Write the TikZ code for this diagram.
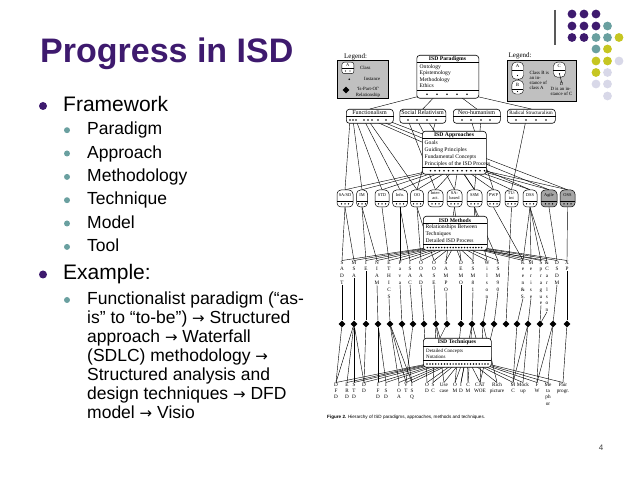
\documentclass[tikz,border=0pt]{standalone}
\usepackage{fontspec}
\setmainfont{Liberation Sans}
\newfontfamily\figserif{Liberation Serif}
\newfontfamily\arrowfont{DejaVu Sans}
\newcommand\thenarrow{{\arrowfont\fontsize{15}{15}\selectfont →}}
\usetikzlibrary{shapes.geometric}
\pgfdeclarelayer{bg}
\pgfsetlayers{bg,main}

\definecolor{slidepurple}{RGB}{62,26,110}
\definecolor{slideteal}{RGB}{106,160,160}
\definecolor{slideyellow}{RGB}{198,198,34}
\definecolor{slidelilac}{RGB}{216,216,232}
\definecolor{legendgray}{RGB}{192,192,192}
\definecolor{apgray}{RGB}{165,165,165}

\begin{document}
\begin{tikzpicture}[x=1pt,y=-1pt,
  slidetitle/.style={anchor=base west,inner sep=0,text=slidepurple,font=\fontsize{34}{34}\selectfont\bfseries},
  lvlone/.style={anchor=base west,inner sep=0,font=\fontsize{21}{21}\selectfont},
  lvltwo/.style={anchor=base west,inner sep=0,font=\fontsize{17.5}{19}\selectfont},
  figtxt/.style={inner sep=0,font=\figserif\fontsize{5.6}{6.5}\selectfont},
  figbold/.style={inner sep=0,font=\figserif\bfseries\fontsize{5.7}{6.5}\selectfont},
  legtxt/.style={inner sep=0,font=\figserif\fontsize{4.8}{5.2}\selectfont},
  classbox/.style={draw,fill=white,rounded corners=3pt,line width=0.6pt,inner sep=0},
  apbox/.style={draw,rounded corners=4pt,line width=0.5pt,minimum height=17pt,inner sep=0},
  conn/.style={line width=0.42pt},
  instdot/.style={circle,fill=black,inner sep=0,minimum size=1.8pt},
  partof/.style={diamond,fill=black,inner sep=0,minimum size=7pt},
  vlet/.style={inner sep=0,anchor=north,align=center,font=\figserif\fontsize{5.2}{6.8}\selectfont},
  tlet/.style={inner sep=0,anchor=north,align=center,font=\figserif\fontsize{5.2}{6.4}\selectfont}
]
\useasboundingbox (0,0) rectangle (638,478);

% Titel
\node[slidetitle] (ttl) at (40,63) {Progress in ISD};

% Aufzaehlung Framework
\fill[slidepurple] (43,106) circle[radius=4pt];
\node[lvlone] (frame) at (63,112) {Framework};
\foreach \y/\txt in {135/Paradigm,158.3/Approach,181.7/Methodology,205/Technique,228.3/Model,251.7/Tool}{
  \fill[slideteal] (67,\y-4.8) circle[radius=3pt];
  \node[lvltwo] at (87,\y) {\txt};
}

% Aufzaehlung Example
\fill[slidepurple] (43,274.5) circle[radius=4pt];
\node[lvlone] (exmp) at (63,280) {Example:};
\fill[slideteal] (67,300) circle[radius=3pt];
\node[lvltwo] (ex1) at (87,305) {Functionalist paradigm (“as-};
\node[lvltwo] (ex2) at (87,323.9) {is” to “to-be”) \thenarrow\ Structured};
\node[lvltwo] (ex3) at (87,342.8) {approach \thenarrow\ Waterfall};
\node[lvltwo] (ex4) at (87,361.7) {(SDLC) methodology \thenarrow};
\node[lvltwo] (ex5) at (87,380.5) {Structured analysis and};
\node[lvltwo] (ex6) at (87,399.4) {design techniques \thenarrow\ DFD};
\node[lvltwo] (ex7) at (87,418.3) {model \thenarrow\ Visio};

% Seitenzahl
\node[anchor=base,inner sep=0,font=\fontsize{8}{8}\selectfont,text=black!75] (pnum) at (601,451) {4};

% Dekorpunkte oben rechts
\draw[line width=1.2pt,black!65] (555,10) -- (555,45);
\foreach \x/\y/\c in {572/14/slidepurple,584/14/slidepurple,596/14/slidepurple,
  572/26/slidepurple,584/26/slidepurple,596/26/slidepurple,607.5/26/slideteal,
  572/37.5/slidepurple,584/37.5/slidepurple,596/37.5/slideteal,607.5/37.5/slideteal,619/37.5/slideyellow,
  596/49/slideteal,607.5/49/slideyellow,
  596/61/slideyellow,607.5/61/slideyellow,619/61/slidelilac,
  596/72.5/slideyellow,607.5/72.5/slidelilac,
  596/84/slidelilac,607.5/84/slidelilac,
  607.5/96/slidelilac}
  \fill[\c] (\x,\y) circle[radius=4.4pt];

% ---------------- Abbildung ----------------
% Legende links
\node[inner sep=0,anchor=base west,font=\figserif\fontsize{7}{7}\selectfont] (legl) at (344,58.5) {Legend:};
\draw[fill=legendgray,line width=0.5pt] (337.3,60.5) rectangle (388.3,98.3);
\node[classbox,rounded corners=2.5pt,line width=0.4pt,minimum width=12pt,minimum height=11.5pt,anchor=north west] (lcls) at (341.7,62) {};
\draw[line width=0.4pt] (341.7,68) -- (353.7,68);
\node[legtxt,font=\figserif\fontsize{4.5}{5}\selectfont] at (347.7,65.2) {A};
\fill (345.5,71) circle[radius=0.7pt] (350,71) circle[radius=0.7pt];
\node[legtxt,anchor=west] (lclass) at (360,67.7) {Class};
\node[instdot] (linst) at (349.3,79.3) {};
\node[legtxt,anchor=west] (linsttxt) at (364,79.3) {Instance};
\node[partof] (lpart) at (346,90) {};
\node[legtxt,align=center,font=\figserif\fontsize{4.8}{5.7}\selectfont] (lparttxt) at (368,92.2) {‘Is-Part-Of’\\Relationship};

% Legende rechts
\node[inner sep=0,anchor=base west,font=\figserif\fontsize{7}{7}\selectfont] (legr) at (508.5,58) {Legend:};
\draw[fill=legendgray,line width=0.5pt] (507.3,59.8) rectangle (576.7,101.7);
\node[classbox,rounded corners=4pt,line width=0.4pt,minimum width=11.6pt,minimum height=17pt,anchor=north west] (lca) at (511.7,62) {};
\draw[line width=0.4pt] (511.7,70.7) -- (523.3,70.7);
\node[legtxt] at (517.5,66.2) {A};
\node[classbox,rounded corners=4pt,line width=0.4pt,minimum width=11.6pt,minimum height=13.5pt,anchor=north west] (lcb) at (511.7,80.3) {};
\draw[line width=0.4pt] (511.7,89) -- (523.3,89);
\node[legtxt] at (517.5,85) {B};
\draw[line width=0.4pt] (lca.south) -- (lcb.north);
\fill (517.5,75.5) circle[radius=0.7pt] (517.5,91.5) circle[radius=0.7pt];
\node[classbox,rounded corners=4pt,line width=0.4pt,minimum width=11.7pt,minimum height=15pt,anchor=north west] (lcc) at (553.3,62) {};
\draw[line width=0.4pt] (553.3,70.7) -- (565,70.7);
\node[legtxt] at (559.2,66.2) {C};
\fill (559.5,73.8) circle[radius=0.7pt];
\node[legtxt] (lcd) at (561.7,84.3) {D};
\draw[line width=0.4pt] (559.5,73.8) -- (lcd.north);
\node[legtxt,anchor=north west,align=left] (lcbtxt) at (529.5,70.8) {Class B is\\an in-\\stance of\\class A};
\node[legtxt,anchor=north west,align=left] (lcdtxt) at (550.5,87) {D is an in-\\stance of C};

% ISD Paradigms
\node[classbox,minimum width=62pt,minimum height=43pt,anchor=north west] (para) at (416.5,55) {};
\node[figbold] (paratit) at (447.5,59.3) {ISD Paradigms};
\draw[line width=0.5pt] (416.5,62.5) -- (478.5,62.5);
\node[figtxt,anchor=base west] at (419.5,68.3) {Ontology};
\node[figtxt,anchor=base west] at (419.5,74.9) {Epistemology};
\node[figtxt,anchor=base west] at (419.5,81.5) {Methodology};
\node[figtxt,anchor=base west] at (419.5,88) {Ethics};
\draw[line width=0.5pt] (416.5,90.5) -- (478.5,90.5);
\foreach \i/\x in {1/427,2/437,3/447,4/457,5/467} \node[instdot] (pd\i) at (\x,94.2) {};

% Paradigmen-Instanzen
\node[classbox,minimum width=47pt,minimum height=14pt,anchor=north west] (pF) at (346,109) {};
\node[classbox,minimum width=46pt,minimum height=14pt,anchor=north west] (pS) at (399.5,109) {};
\node[classbox,minimum width=47pt,minimum height=14pt,anchor=north west] (pN) at (453,109) {};
\node[classbox,minimum width=48pt,minimum height=14pt,anchor=north west] (pR) at (507,109) {};
\node[figtxt,font=\figserif\fontsize{6}{6}\selectfont] at (369.5,112.8) {Functionalism};
\node[figtxt,font=\figserif\fontsize{6}{6}\selectfont] at (422.5,112.8) {Social Relativism};
\node[figtxt,font=\figserif\fontsize{6}{6}\selectfont] at (476.5,112.8) {Neo-humanism};
\node[figtxt,font=\figserif\fontsize{5}{5}\selectfont] at (531,112.8) {Radical Structuralism};
\foreach \b in {pF,pS,pN,pR} \draw[line width=0.5pt] (\b.west|-0,116.3) -- (\b.east|-0,116.3);
\foreach \i/\x in {1/350,2/353,3/356,4/364,5/368,6/372,7/378,8/386} \node[instdot] (fd\i) at (\x,120) {};
\foreach \i/\x in {1/408,2/417,3/427,4/436} \node[instdot] (sd\i) at (\x,120) {};
\foreach \i/\x in {1/462,2/471,3/481,4/490} \node[instdot] (nd\i) at (\x,120) {};
\foreach \i/\x in {1/516,2/526,3/536,4/546} \node[instdot] (rd\i) at (\x,120) {};

% ISD Approaches
\node[classbox,minimum width=64pt,minimum height=43pt,anchor=north west] (isdA) at (422,131) {};
\node[figbold] at (454,135) {ISD Approaches};
\draw[line width=0.5pt] (422,138.5) -- (486,138.5);
\node[figtxt,anchor=base west] at (424.5,144.4) {Goals};
\node[figtxt,anchor=base west] at (424.5,151.4) {Guiding Principles};
\node[figtxt,anchor=base west] at (424.5,158.4) {Fundamental Concepts};
\node[figtxt,anchor=base west] at (424.5,165.4) {Principles of the ISD Process};
\draw[line width=0.5pt] (422,167.6) -- (486,167.6);
\foreach \i in {1,...,13} \node[instdot] (ad\i) at (426+4.5*\i,170.8) {};

% Ansatz-Instanzen
\foreach \i/\x/\w/\lab/\fc in {1/345/16/{SA/SD}/white,2/362/11/{IM}/white,3/382/14/{STD}/white,
  4/400/15/{Info.}/white,5/417/13/{OO}/white,6/435.5/15/{Inter-\\act.}/white,
  7/454.5/15/{SA-\\based}/white,8/474.5/15/{SSM}/white,9/493.5/13/{PWP}/white,
  10/511.5/13/{TU-\\int}/white,11/530/14/{DSS}/white,12/549/16/{Agile}/apgray,13/567.5/15/{OSS}/apgray}{
  \node[apbox,fill=\fc,minimum width=\w pt] (a\i) at (\x,198.5) {};
  \node[figtxt,align=center,font=\figserif\fontsize{4.4}{4.6}\selectfont] (al\i) at (\x,195.3) {\lab};
  \draw[line width=0.35pt] ({\x-\w/2},200.8) -- ({\x+\w/2},200.8);
  \foreach \k in {-3.5,0,3.5} \fill (\x+\k,203.8) circle[radius=0.75pt];
}

% ISD Methods
\node[classbox,minimum width=64pt,minimum height=34pt,anchor=north west] (isdM) at (423,216) {};
\node[figbold] at (455,220.7) {ISD Methods};
\draw[line width=0.5pt] (423,223.5) -- (487,223.5);
\node[figtxt,anchor=base west] at (425.5,229) {Relationships Between};
\node[figtxt,anchor=base west] at (425.5,235.7) {Techniques};
\node[figtxt,anchor=base west] at (425.5,242.4) {Detailed ISD Process};
\draw[line width=0.5pt] (423,244.5) -- (487,244.5);
\foreach \i in {1,...,20} \node[instdot,minimum size=1.7pt] (md\i) at (424.6+2.85*\i,247.6) {};

% Methoden
\foreach \i/\x/\lab in {1/342/{S\\A\\D\\T},2/354/{M\\S\\A},3/366/{I\\E},4/377/{N\\I\\A\\M},
  5/389/{E\\T\\H\\I\\C\\S},6/400/{P\\a\\v\\a},7/410/{I\\S\\A\\C},8/421/{O\\O\\A\\D},
  9/434/{O\\O\\S\\E},10/446/{S\\A\\M\\P\\O},11/461/{D\\E\\M\\O},12/473/{S\\S\\M\\8\\1},
  13/487/{W\\i\\l\\s\\o\\n},14/498/{S\\S\\M\\9\\0},16/523/{K\\e\\e\\n\\\&\\S.},
  17/531/{M\\e\\r\\i\\s\\e},18/541/{S\\p\\r\\a\\g\\u\\e},19/557/{D\\S\\D\\M},20/567/{X\\P}}
  \node[vlet] (m\i) at (\x,260.5) {\lab};
\node[vlet] (m18b) at (547,260.5) {\&\\C\\a\\r\\l\\s\\o\\n};

% Teil-von-Rauten
\foreach \i/\x in {1/342,2/354,3/366,4/378,5/390,6/402,7/413,8/424,9/436,10/447,
  11/461,12/472,13/483,14/494,15/506,16/517,17/528,18/540,19/553,20/567}
  \node[partof] (dm\i) at (\x,324) {};

% ISD Techniques
\node[classbox,minimum width=68pt,minimum height=29pt,anchor=north west] (isdT) at (423,338) {};
\node[figbold] at (457,342.5) {ISD Techniques};
\draw[line width=0.5pt] (423,346) -- (491,346);
\node[figtxt,anchor=base west,font=\figserif\fontsize{5}{5}\selectfont] at (426,352.2) {Detailed Concepts};
\node[figtxt,anchor=base west,font=\figserif\fontsize{5}{5}\selectfont] at (426,358.2) {Notations};
\draw[line width=0.5pt] (423,360.5) -- (491,360.5);
\foreach \i in {1,...,22} \node[instdot,minimum size=1.7pt] (td\i) at (424.1+2.9*\i,364) {};
\coordinate (tinl) at (440,338);
\coordinate (tinr) at (476,338);

% Techniken
\foreach \i/\x/\lab in {1/336/{D\\F\\D},2/347/{E\\R\\D},3/354/{S\\T\\D},4/364/{D\\D},
  5/378/{I\\F\\D},6/386/{I\\S\\D},7/399/{I\\O\\A},8/406/{V\\T},9/412/{I\\S\\Q},
  10/427/{O\\D},11/433/{S\\C},12/444/{Use\\case},13/455/{O\\M},14/461/{I\\D},
  15/468/{C\\M},16/480/{CAT\\WOE},17/497/{Rich\\picture},18/513/{M\\C},
  19/523/{Mock\\up},20/537/{F\\W},21/548/{Me\\ta\\ph\\or},22/563/{Pair\\progr.}}
  \node[tlet] (t\i) at (\x,382.5) {\lab};

% Bildunterschrift
\node[anchor=base west,inner sep=0,font=\fontsize{4.6}{5}\selectfont] (cap) at (327,419) {\textbf{Figure 2.} Hierarchy of ISD paradigms, approaches, methods and techniques.};

% Verbindungen (hinter den Kaesten)
\begin{pgfonlayer}{bg}
\foreach \d/\b in {1/pF,2/pS,4/pN,5/pR} \draw[conn] (pd\d) -- (\b.north);
\foreach \d/\a in {1/1,2/2,3/3,4/4,5/5,6/11,7/12,8/13} \draw[conn] (fd\d) -- (a\a.north);
\foreach \d/\a in {1/6,2/7,3/8,4/5} \draw[conn] (sd\d) -- (a\a.north);
\foreach \d/\a in {2/9,3/8} \draw[conn] (nd\d) -- (a\a.north);
\draw[conn] (rd2) -- (a10.north);
\foreach \i in {1,...,13} \draw[conn] (ad\i) -- (a\i.north);
\foreach \a/\m in {1/1,1/2,2/3,2/4,3/5,4/6,4/7,5/8,5/9,7/10,7/11,8/12,8/13,8/14,9/16,11/16,11/17,11/18,12/19,13/20}
  \draw[conn] (a\a.south) -- (m\m.north);
\draw[conn] (a11.south) -- (m18b.north);
\draw[conn] (a10.south) -- (dm15);
\foreach \i in {1,2,3,4,5,6,7,8,9,10,11,12,13,14,16,17,18,19,20} {
  \draw[conn] (md\i) -- (m\i.north);
  \draw[conn] (m\i.south) -- (dm\i);
}
\draw[conn] (md15) -- (m18b.north);
\draw[conn] (m18b.south) -- (dm18);
\foreach \d/\t in {1/1,2/1,2/2,2/3,2/4,3/4,4/5,4/6,5/7,5/8,5/9,6/9,7/8,8/10,9/11,9/12,11/13,12/14,12/15,
  13/16,13/17,14/16,16/18,17/18,17/19,18/20,19/20,19/21,20/22}
  \draw[conn] (dm\d) -- (t\t.north);
\draw[conn] (dm9) -- (tinl);
\draw[conn] (dm10) -- (tinl);
\draw[conn] (dm12) -- (tinr);
\foreach \i in {1,...,22} \draw[conn] (td\i) -- (t\i.north);
\end{pgfonlayer}

\end{tikzpicture}
\end{document}
